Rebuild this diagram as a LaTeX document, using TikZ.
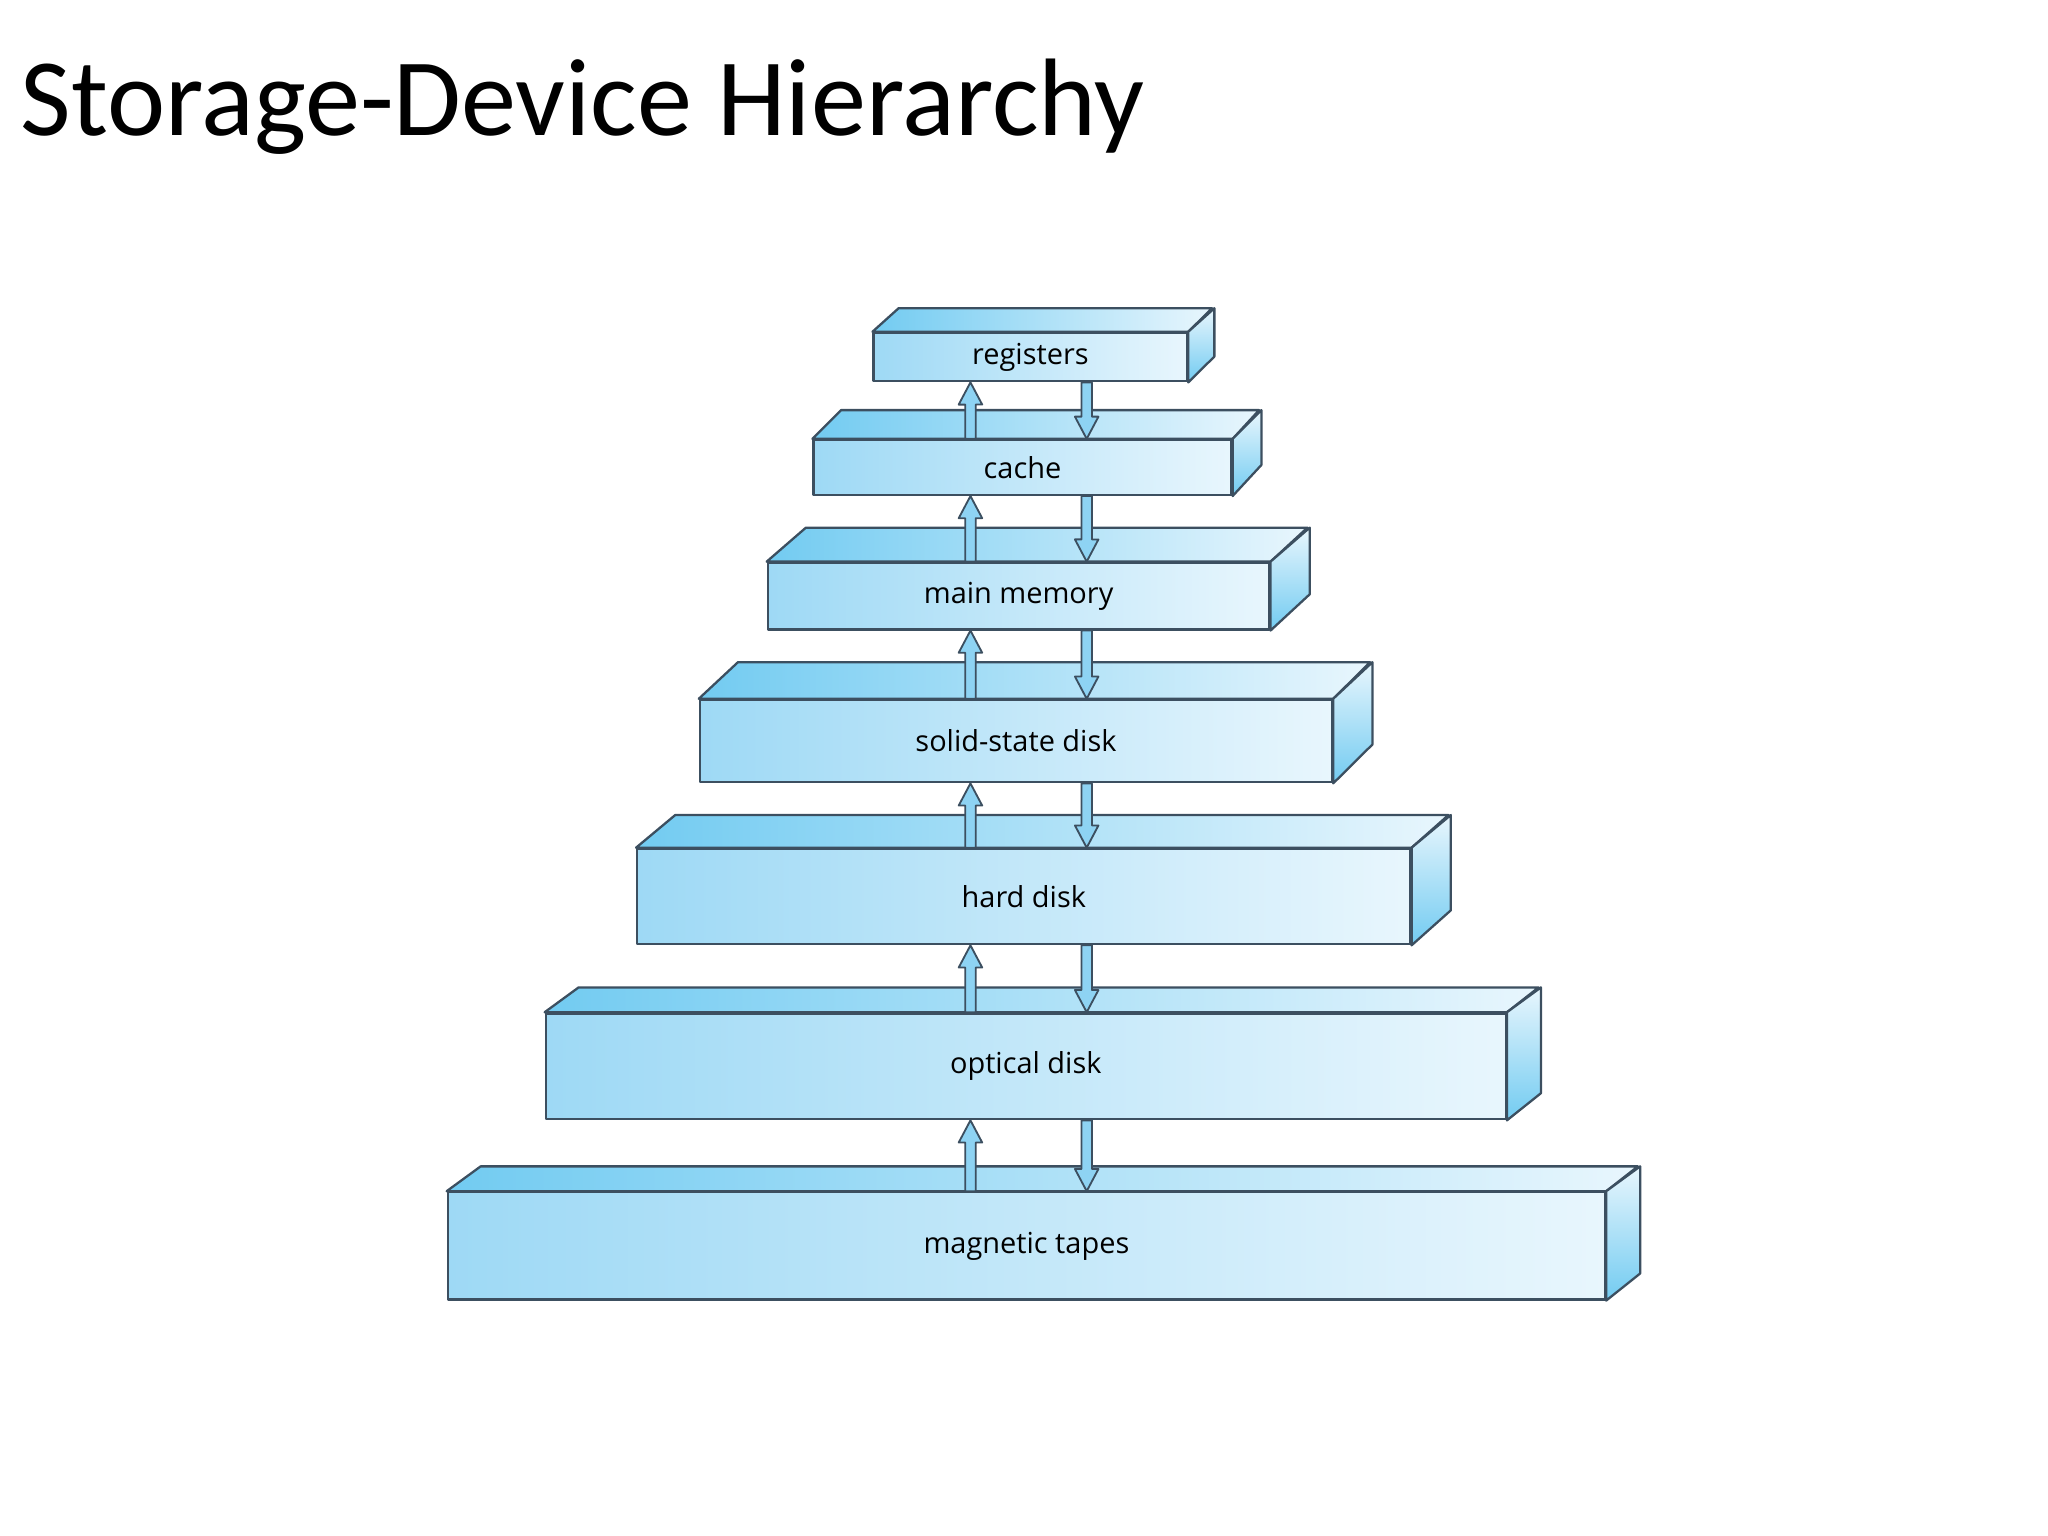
\documentclass[tikz,border=0pt]{standalone}
\usepackage{fontspec}
\setmainfont{Carlito}
\newfontfamily\lab{Open Sans}
\definecolor{topc}{HTML}{72CBF1}
\definecolor{frL}{HTML}{9ED9F5}
\definecolor{frR}{HTML}{E8F6FD}
\definecolor{edge}{HTML}{3C4F60}
\definecolor{arr}{HTML}{8ED3F3}
\tikzset{face/.style={draw=edge,line width=0.5pt,line join=round}}
% #1 name, #2 left, #3 right, #4 front top, #5 bottom, #6 back top, #7 back shift, #8 text
\newcommand\stackbox[8]{%
  \node[face,left color=frL,right color=frR,minimum width={(#3-#2)*0.01cm},minimum height={(#5-#4)*0.01cm},inner sep=0pt,anchor=north west] (#1) at (#2,#4) {\lab\fontsize{6.3pt}{8pt}\selectfont #8};
  \path[face,left color=topc,right color=frR] (#1.north west) -- ++(#7,{#6-#4}) -- ++({#3-#2},0) -- (#1.north east) -- cycle;
  \path[face,top color=frR,bottom color=topc] (#1.north east) -- ++(#7,{#6-#4}) -- ++(0,{#5-#4}) -- (#1.south east) -- cycle;
}
\begin{document}
\begin{tikzpicture}[x=0.01cm,y=-0.01cm]
\useasboundingbox (0,0) rectangle (1568,1176);
\node[anchor=west,inner sep=0pt] (title) at (15,82) {\fontsize{24pt}{28pt}\selectfont Storage-Device Hierarchy};
\stackbox{b1}{668}{908}{254}{291}{236}{20}{registers}
\stackbox{b2}{622}{942}{336}{378}{314}{22}{cache}
\stackbox{b3}{587}{971}{430}{481}{404}{30}{main memory}
\stackbox{b4}{535}{1019}{535}{598}{507}{30}{solid-state disk}
\stackbox{b5}{487}{1079}{649}{722}{624}{30}{hard disk}
\stackbox{b6}{417}{1152}{775}{856}{756}{26}{optical disk}
\stackbox{b7}{342}{1228}{912}{994}{893}{26}{magnetic tapes}
\foreach \a/\b in {b1/b2,b2/b3,b3/b4,b4/b5,b5/b6,b6/b7}{
  \coordinate (u1) at (743,0); \coordinate (u2) at (832,0);
  \path[face,fill=arr,line width=0.4pt]
    (\b.north -| u1) ++(-4,0) -- ([xshift=-0.04cm,yshift=-0.17cm]\a.south -| u1) -- ++(-5,0) -- (\a.south -| u1) -- ++(9,17) -- ++(-5,0) -- ([xshift=0.04cm]\b.north -| u1) -- cycle;
  \path[face,fill=arr,line width=0.4pt]
    (\a.south -| u2) ++(-4,0) -- ([xshift=-0.04cm,yshift=0.17cm]\b.north -| u2) -- ++(-5,0) -- (\b.north -| u2) -- ++(9,-17) -- ++(-5,0) -- ([xshift=0.04cm]\a.south -| u2) -- cycle;
}
\end{tikzpicture}
\end{document}
